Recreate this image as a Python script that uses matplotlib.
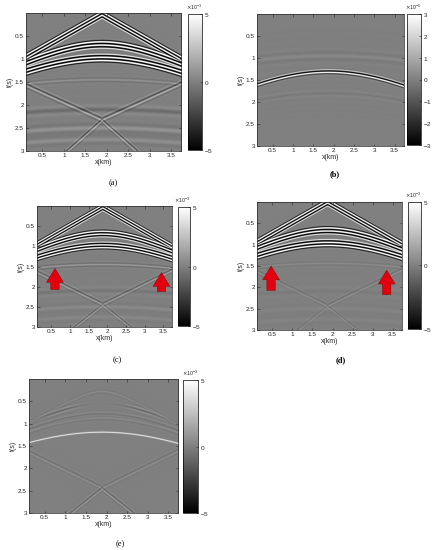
import numpy as np
import matplotlib
matplotlib.use('Agg')
import matplotlib.pyplot as plt
from matplotlib.ticker import ScalarFormatter

plt.rcParams['font.family'] = ['Liberation Sans', 'DejaVu Sans']
plt.rcParams['axes.unicode_minus'] = False

# ---------------- sampling of the gathers ----------------
x_start, x_end, x_step = 0.125, 3.725, 0.0125   # km
t_end, t_step = 3.0, 0.002                        # s
source_x = 1.88                                   # km

# ---------------- seismic events ----------------
# kind: 'lin' t = t0 + |off|/v ; 'inv' t = t0 - |off|/v ; 'hyp' t = sqrt(t0^2 + (off/v)^2)
ev_kind  = ['lin', 'hyp', 'hyp', 'hyp', 'inv', 'lin', 'inv', 'lin', 'hyp', 'hyp', 'hyp',
            'hyp', 'hyp', 'hyp', 'hyp', 'hyp', 'hyp', 'hyp', 'hyp']
ev_t0    = [0.03, 0.68, 0.98, 1.45, 2.31, 2.33, 2.43, 2.45, 2.10, 2.50, 2.75,
            1.31, 0.95, 1.80, 0.28, 0.55, 0.78, 0.87, 1.19]
ev_v     = [1.88, 2.12, 2.17, 3.50, 2.35, 1.20, 2.20, 1.35, 3.50, 3.00, 2.80,
            1.90, 4.00, 2.30, 1.85, 2.20, 2.20, 2.20, 2.25]
ev_freq  = [14, 14, 14, 12, 11, 11, 11, 11, 5, 5, 5,
            15, 6, 8, 12, 12, 12, 12, 0]
ev_sigma = [0.05, 0.05, 0.05, 0.06, 0.065, 0.065, 0.065, 0.065, 0.1, 0.1, 0.1,
            0.045, 0.12, 0.09, 0.06, 0.06, 0.06, 0.06, 0.012]
ev_phase = [90, 90, 90, 0, 90, 90, 90, 90, 0, 0, 0,
            90, 0, 0, 0, 0, 0, 0, 0]
ev_taper_off = [0, 0, 0, 0, 0, 0, 0, 0, 0, 0, 0,
                0, 0, 0, 0, 1.0, 0, 0, 0]
ev_taper_w   = [0, 0, 0, 0, 0, 0, 0, 0, 0, 0, 0,
                0, 0, 0, 0, 0.45, 0, 0, 0]
# amplitudes per panel
amp_a = [0.1, 0.1, -0.1, 0.8e-3, 2.4e-3, 2.4e-3, 0, 0, -0.8e-3, 0.8e-3, 0.6e-3,
         0, 0, 0, 0, 0, 0, 0, 0]
amp_b = [0, 0, 0, 0, 0, 0, 0, 0, 0, 0, 0,
         6e-5, 2e-6, -1.5e-6, 0, 0, 0, 0, 0]
amp_c = [0.1, 0.1, -0.1, 1.2e-3, 0, 0, 1.6e-3, 1.4e-3, -0.4e-3, 0.4e-3, 0.3e-3,
         0, 0, 0, 0, 0, 0, 0, 0]
amp_d = [0.1, 0.1, -0.1, 0.5e-3, 0, 0, 0.7e-3, 0.6e-3, -0.2e-3, 0.2e-3, 0.2e-3,
         0, 0, 0, 0, 0, 0, 0, 0]
amp_e = [0, 0, 0, 0, 0, 0, 0.7e-3, 1.3e-3, 0, 0, 0,
         0, 0, 0, 4e-4, -1.3e-3, -6e-4, 5e-4, 5e-3]

panel_amps   = [amp_a, amp_b, amp_c, amp_d, amp_e]
panel_labels = ['(a)', '(b)', '(c)', '(d)', '(e)']
panel_clip   = [5e-3, 3e-5, 5e-3, 5e-3, 5e-3]
cbar_ticks   = [[-5e-3, 0, 5e-3], [-3e-5, -2e-5, -1e-5, 0, 1e-5, 2e-5, 3e-5],
                [-5e-3, 0, 5e-3], [-5e-3, 0, 5e-3], [-5e-3, 0, 5e-3]]
x_ticks = [0.5, 1, 1.5, 2, 2.5, 3, 3.5]
t_ticks = [0.5, 1, 1.5, 2, 2.5, 3]

x = np.arange(x_start, x_end + 1e-9, x_step)
t = np.arange(0, t_end + 1e-9, t_step)


def gather(amps):
    d = np.zeros((t.size, x.size))
    off = np.abs(x - source_x)
    for k in range(len(ev_kind)):
        a = amps[k]
        if a == 0:
            continue
        if ev_kind[k] == 'lin':
            T = ev_t0[k] + off / ev_v[k]
        elif ev_kind[k] == 'inv':
            T = ev_t0[k] - off / ev_v[k]
        else:
            T = np.sqrt(ev_t0[k] ** 2 + (off / ev_v[k]) ** 2)
        w = np.ones_like(off)
        if ev_taper_w[k] > 0:
            w = np.exp(-((off - ev_taper_off[k]) / ev_taper_w[k]) ** 2)
        f = ev_freq[k]
        sig = ev_sigma[k]
        tau = t[:, None] - T[None, :]
        d += a * w[None, :] * np.cos(2 * np.pi * f * tau - np.deg2rad(ev_phase[k])) * np.exp(-(tau / sig) ** 2)
    return d


W, H = 444, 550


def box(l, tp, r, b):
    return [l / W, 1 - b / H, (r - l) / W, (b - tp) / H]


ax_boxes = [box(26, 13, 181, 151), box(257, 14, 404, 146), box(37, 206, 172, 327),
            box(257, 202, 402, 330), box(29, 379, 178, 513)]
cb_boxes = [box(188, 14, 202, 150), box(407, 14, 421, 145), box(178, 207, 190, 326),
            box(408, 202, 421, 329), box(183, 380, 198, 513)]
cap_pos = [(113, 183), (335, 174), (117, 360), (341, 360), (120, 544)]
cap_bold = [False, True, False, True, False]

fig = plt.figure(figsize=(W / 100, H / 100), dpi=100)
fs = 4.6
axes = []
for i in range(5):
    ax = fig.add_axes(ax_boxes[i])
    cax = fig.add_axes(cb_boxes[i])
    data = gather(panel_amps[i])
    c = panel_clip[i]
    im = ax.imshow(np.clip(data, -c, c), cmap='gray', vmin=-c, vmax=c, aspect='auto',
                   extent=[x_start - x_step / 2, x_end + x_step / 2, t_end + t_step / 2, -t_step / 2],
                   interpolation='antialiased', interpolation_stage='data')
    ax.set_xlim(x_start - x_step / 2, x_end + x_step / 2)
    ax.set_ylim(t_end, 0)
    ax.set_xticks(x_ticks)
    ax.set_xticklabels([f'{v:g}' for v in x_ticks])
    ax.set_yticks(t_ticks)
    ax.set_yticklabels([f'{v:g}' for v in t_ticks])
    ax.tick_params(direction='in', length=1.8, width=0.4, labelsize=fs, top=True, right=True,
                   pad=1.5, colors='#262626')
    for s in ax.spines.values():
        s.set_linewidth(0.5)
        s.set_color('#262626')
    ax.set_xlabel('x(km)', fontsize=fs + 0.4, labelpad=0.5, color='#262626')
    ax.set_ylabel('t(s)', fontsize=fs + 0.4, labelpad=1, color='#262626')

    cb = fig.colorbar(im, cax=cax)
    fmt = ScalarFormatter(useMathText=True)
    fmt.set_powerlimits((0, 0))
    cb.formatter = fmt
    cb.set_ticks(cbar_ticks[i])
    cb.update_ticks()
    cb.ax.tick_params(direction='in', length=1.8, width=0.4, labelsize=fs, pad=1.5, colors='#262626')
    cb.outline.set_linewidth(0.5)
    cb.ax.yaxis.get_offset_text().set_fontsize(fs - 0.8)
    cb.ax.yaxis.get_offset_text().set_color('#262626')

    fig.text(cap_pos[i][0] / W, 1 - cap_pos[i][1] / H, panel_labels[i],
             family=['Liberation Serif', 'DejaVu Serif'], fontsize=6,
             fontweight='bold' if cap_bold[i] else 'normal', ha='center', va='center')
    axes.append(ax)

# red arrows marking the attenuated area in (c) and (d)
arrow_props = dict(arrowstyle='simple,head_width=1.1,head_length=0.9,tail_width=0.55',
                   fc='#e3000f', ec='#7a0000', lw=0.3, shrinkA=0, shrinkB=0, mutation_scale=11)
for ax, tips, bases in [(axes[2], [(0.6, 1.55), (3.45, 1.65)], [(0.6, 2.07), (3.45, 2.12)]),
                        (axes[3], [(0.47, 1.5), (3.35, 1.6)], [(0.47, 2.07), (3.35, 2.17)])]:
    for tip, base in zip(tips, bases):
        ax.annotate('', xy=tip, xytext=base, arrowprops=arrow_props)

fig.savefig('out.png', dpi=100)
